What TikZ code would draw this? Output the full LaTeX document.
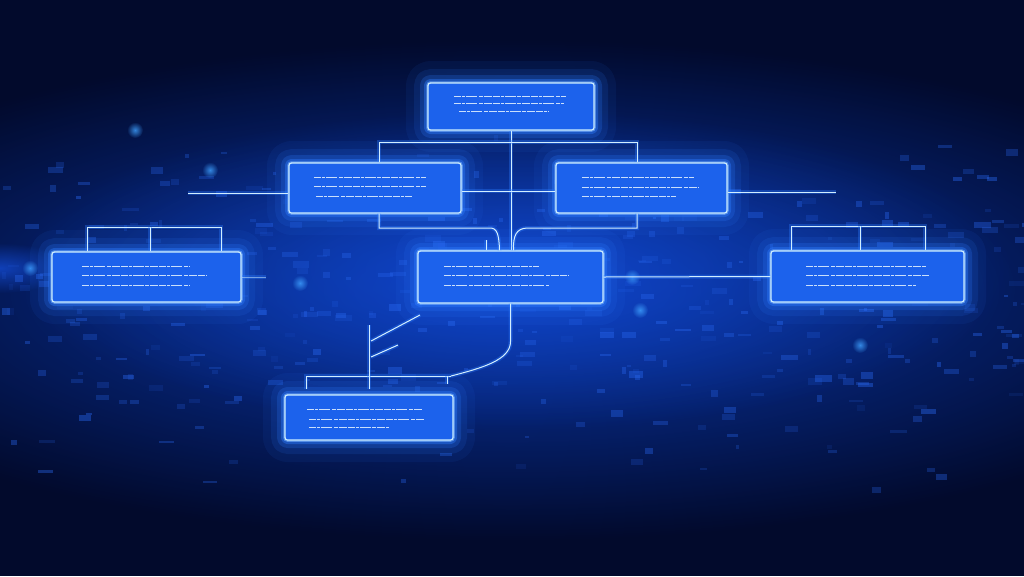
\documentclass[tikz,border=0pt]{standalone}
\usetikzlibrary{calc,fadings}
\definecolor{bgdark}{HTML}{020A2C}
\definecolor{bandc}{HTML}{0A3CBA}
\definecolor{bandc2}{HTML}{1550E0}
\definecolor{boxc}{HTML}{1C62EC}
\definecolor{edgec}{HTML}{CDEEFF}
\definecolor{glowc}{HTML}{2C7BFF}
\definecolor{linec}{HTML}{D2EEFF}
\definecolor{bitc}{HTML}{2A6AF5}
\definecolor{spotc}{HTML}{3FA0FF}
\definecolor{txtc}{HTML}{E8F6FF}
\tikzfading[name=softglow, inner color=transparent!0, outer color=transparent!100]
\begin{document}
\begin{tikzpicture}[x=1pt,y=-1pt,
  box/.style={rectangle, rounded corners=2.5pt, draw=edgec, line width=1.2pt, fill=boxc, inner sep=0pt,
    preaction={draw=glowc, line width=44pt, opacity=0.07, line join=round},
    preaction={draw=glowc, line width=28pt, opacity=0.12, line join=round},
    preaction={draw=glowc, line width=16pt, opacity=0.22, line join=round},
    preaction={draw=glowc, line width=8pt, opacity=0.40, line join=round},
    preaction={draw=edgec!50!glowc, line width=3.5pt, opacity=0.6}},
  conn/.style={draw=linec, line width=1pt,
    preaction={draw=glowc, line width=4pt, opacity=0.35}},
  txt/.style={draw=txtc, line width=1.2pt, opacity=0.85,
    dash pattern=on 7pt off 1pt on 3pt off 1pt on 11pt off 1.5pt on 4pt off 1pt on 8pt off 1pt},
  bit/.style={fill=bitc}]
\useasboundingbox (0,0) rectangle (1024,576);
\clip (0,0) rectangle (1024,576);
% background
\fill[bgdark] (0,0) rectangle (1024,576);
\fill[bandc, path fading=softglow, opacity=0.95] (512,290) ellipse (780 and 250);
\fill[bandc2, path fading=softglow, opacity=0.6] (512,270) ellipse (500 and 160);
\fill[bandc2, path fading=softglow, opacity=0.7] (0,268) ellipse (70 and 25);
\pgfmathsetseed{42}
\foreach \i in {1,...,440}{
  \pgfmathsetmacro\rx{1024*rnd}
  \pgfmathsetmacro\ry{300+190*(rnd+rnd-1)}
  \pgfmathsetmacro\rw{3+14*rnd}
  \pgfmathsetmacro\rh{2+5*rnd}
  \pgfmathsetmacro\ro{0.08+0.32*rnd}
  \fill[bit, opacity=\ro] (\rx,\ry) rectangle ++(\rw,\rh);
}
\foreach \px/\py in {632/277, 300/283, 135/130, 470/290, 860/345, 640/310, 210/170, 440/415, 30/268}{
  \fill[spotc, path fading=softglow, opacity=0.8] (\px,\py) circle (8);
}
% boxes
\node[box, minimum width=166pt, minimum height=47pt] (top) at (511,106.5) {};
\node[box, minimum width=172pt, minimum height=50pt] (ml) at (375,188) {};
\node[box, minimum width=171pt, minimum height=50pt] (mr) at (641.5,188) {};
\node[box, minimum width=189pt, minimum height=50pt] (left) at (146.5,277) {};
\node[box, minimum width=185pt, minimum height=52pt] (center) at (510.5,277) {};
\node[box, minimum width=193pt, minimum height=51pt] (right) at (867.5,276.5) {};
\node[box, minimum width=168pt, minimum height=45pt] (bottom) at (369,417.5) {};
% text marks
\draw[txt] ($(top.north west)+(27,14)$) -- ++(112,0);
\draw[txt] ($(top.north west)+(27,21)$) -- ++(110,0);
\draw[txt] ($(top.north west)+(32,29)$) -- ++(90,0);
\draw[txt] ($(ml.north west)+(26,15)$) -- ++(112,0);
\draw[txt] ($(ml.north west)+(26,24)$) -- ++(112,0);
\draw[txt] ($(ml.north west)+(28,34)$) -- ++(96,0);
\draw[txt] ($(mr.north west)+(27,15)$) -- ++(112,0);
\draw[txt] ($(mr.north west)+(27,25)$) -- ++(117,0);
\draw[txt] ($(mr.north west)+(27,34)$) -- ++(94,0);
\draw[txt] ($(left.north west)+(31,15)$) -- ++(107,0);
\draw[txt] ($(left.north west)+(31,24)$) -- ++(124,0);
\draw[txt] ($(left.north west)+(31,34)$) -- ++(107,0);
\draw[txt] ($(center.north west)+(27,16)$) -- ++(95,0);
\draw[txt] ($(center.north west)+(27,25)$) -- ++(125,0);
\draw[txt] ($(center.north west)+(27,35)$) -- ++(105,0);
\draw[txt] ($(right.north west)+(36,16)$) -- ++(120,0);
\draw[txt] ($(right.north west)+(36,25)$) -- ++(123,0);
\draw[txt] ($(right.north west)+(36,35)$) -- ++(110,0);
\draw[txt] ($(bottom.north west)+(23,15)$) -- ++(115,0);
\draw[txt] ($(bottom.north west)+(25,25)$) -- ++(115,0);
\draw[txt] ($(bottom.north west)+(25,33)$) -- ++(80,0);
% connectors
\coordinate (lstub) at (188,193);
\coordinate (rstub) at (836,192);
\coordinate (lstub2) at (266,277);
\coordinate (jl) at (490,228);
\coordinate (jr) at (528,228);
\coordinate (bbar) at (451,376);
\coordinate (stemtop) at (369,325);
\coordinate (tick) at (486,240);
\draw[conn] (top.south) -- (top.south |- center.north);
\draw[conn] ([xshift=4pt]ml.north) -- ++(0,-20) -| ([xshift=-4.5pt]mr.north);
\draw[conn] ([yshift=-3pt]ml.east) -- ([yshift=-3pt]mr.west);
\draw[conn] (lstub) -- (lstub -| ml.west);
\draw[conn] (rstub -| mr.east) -- (rstub);
\draw[conn] ([xshift=4pt]ml.south) |- (jl) .. controls (497,228) and (499,234) .. ([xshift=-11pt]center.north);
\draw[conn] ([xshift=-4.5pt]mr.south) |- (jr) .. controls (516,228) and (513,236) .. ([xshift=3pt]center.north);
\draw[conn] (tick) -- (tick |- center.north);
\draw[conn] (center.east) -- (right.west);
\draw[conn, opacity=0.5] (left.east) -- (lstub2);
\draw[conn] ([xshift=-59.5pt]left.north) -- ++(0,-24) -| ([xshift=74.5pt]left.north);
\draw[conn] ([xshift=3.5pt]left.north) -- ++(0,-24);
\draw[conn] ([xshift=-76.5pt]right.north) -- ++(0,-24) -| ([xshift=57.5pt]right.north);
\draw[conn] ([xshift=-7.5pt]right.north) -- ++(0,-24);
\draw[conn] ([xshift=-63pt,yshift=5pt]bottom.north) |- (bbar);
\draw[conn] ([yshift=5pt]bottom.north) -- (bottom.north |- stemtop);
\draw[conn] (center.south) -- ++(0,38) .. controls (510.5,360) and (482,368) .. (bbar);
\draw[conn] (447,376) -- (447,384);
\draw[conn] (371,341) -- (420,315);
\draw[conn] (371,357) -- (398,345);
\end{tikzpicture}
\end{document}
